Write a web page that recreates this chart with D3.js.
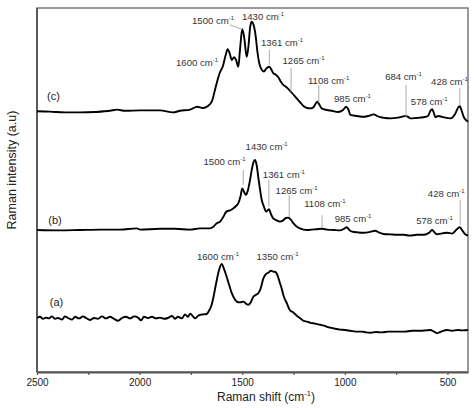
<!DOCTYPE html>
<html><head><meta charset="utf-8">
<script src="https://cdn.jsdelivr.net/npm/d3@7"></script>
<style>body{margin:0;background:#fff} svg{display:block}</style>
</head><body><svg id="chart" width="474" height="408"></svg>
<script>
// Raman spectra: [wavenumber (cm-1), intensity (a.u.)]
const spectrumA = [[2500,13.5],[2485,13.8],[2471,13.3],[2456,13.6],[2442,13.4],[2427,13.9],[2412,13.3],[2398,13.5],[2378,13.1],[2364,13.9],[2349,13.5],[2329,13.1],[2315,13.8],[2295,13.4],[2276,13.9],[2261,13.5],[2242,13.0],[2222,13.5],[2203,13.3],[2183,13.9],[2164,13.4],[2144,13.8],[2125,13.3],[2105,12.8],[2086,13.5],[2066,13.8],[2047,13.4],[2027,13.9],[2008,13.6],[1993,12.9],[1979,13.8],[1959,13.5],[1940,13.8],[1920,13.4],[1901,13.6],[1881,13.3],[1862,13.5],[1842,14.0],[1828,13.3],[1813,13.8],[1794,13.4],[1779,14.4],[1764,13.8],[1754,14.6],[1740,13.9],[1730,13.4],[1716,14.0],[1706,14.3],[1691,14.4],[1673,14.5],[1662,15.3],[1649,16.8],[1638,19.3],[1624,23.0],[1613,25.5],[1600,27.0],[1589,25.8],[1576,23.8],[1564,21.8],[1551,19.7],[1540,18.5],[1527,17.6],[1511,17.4],[1495,17.6],[1482,17.1],[1470,16.8],[1460,17.3],[1446,18.8],[1433,19.3],[1422,19.7],[1411,20.8],[1397,23.4],[1384,24.5],[1373,24.8],[1360,25.3],[1349,25.1],[1338,25.0],[1329,24.3],[1318,22.5],[1308,20.9],[1297,18.8],[1283,17.2],[1267,15.4],[1251,14.9],[1233,14.0],[1219,13.5],[1201,12.8],[1184,12.6],[1168,12.3],[1145,12.1],[1120,11.8],[1102,11.6],[1087,11.3],[1072,11.1],[1054,10.9],[1024,10.6],[999,10.5],[973,10.3],[946,10.1],[916,10.1],[897,9.9],[876,9.8],[848,10.0],[819,9.9],[790,10.1],[746,10.1],[707,10.1],[673,10.3],[634,10.3],[605,10.4],[584,10.5],[566,10.1],[551,9.7],[536,10.0],[522,10.3],[502,10.5],[478,10.3],[449,10.5],[424,10.4],[400,10.5]];

const spectrumB = [[2500,35.5],[2388,35.4],[2290,35.5],[2193,35.6],[2096,35.6],[2013,35.9],[1998,35.6],[1901,35.8],[1828,35.8],[1754,35.6],[1706,35.9],[1657,35.9],[1641,36.3],[1624,37.2],[1608,37.6],[1592,38.8],[1579,40.0],[1568,40.3],[1555,40.5],[1544,40.9],[1530,41.5],[1519,42.2],[1508,44.0],[1500,45.9],[1491,45.0],[1482,44.3],[1472,45.5],[1462,48.0],[1452,51.0],[1445,52.5],[1438,53.0],[1430,51.8],[1422,48.8],[1413,45.5],[1405,43.0],[1394,41.3],[1384,40.1],[1370,40.7],[1360,39.5],[1349,38.4],[1336,38.0],[1316,37.6],[1301,37.9],[1287,38.5],[1276,38.6],[1262,38.0],[1251,37.2],[1238,36.5],[1219,35.9],[1186,35.5],[1160,35.6],[1137,35.7],[1111,35.8],[1087,35.6],[1054,35.5],[1024,35.4],[1004,35.8],[990,36.2],[980,35.6],[965,35.1],[936,34.9],[908,34.8],[878,35.0],[852,35.3],[834,34.9],[811,34.5],[780,34.4],[746,34.3],[713,34.3],[683,34.1],[649,34.3],[614,34.3],[590,34.8],[575,35.5],[563,34.9],[551,34.4],[532,34.6],[502,34.8],[478,34.6],[458,35.5],[440,36.2],[429,35.5],[415,34.5],[400,34.1]];

const spectrumC = [[2500,65.2],[2437,65.1],[2364,64.9],[2290,64.9],[2217,65.0],[2144,65.3],[2110,65.6],[2071,65.3],[1998,65.4],[1901,65.4],[1837,64.9],[1803,65.3],[1754,65.6],[1720,66.3],[1691,66.0],[1667,66.5],[1647,67.8],[1633,70.5],[1623,72.5],[1608,75.0],[1594,76.5],[1582,79.0],[1571,80.7],[1562,79.8],[1551,78.0],[1540,78.7],[1530,78.0],[1519,76.3],[1511,80.5],[1500,85.7],[1491,83.8],[1478,78.8],[1469,81.8],[1462,86.0],[1454,87.6],[1445,86.8],[1434,83.8],[1426,80.0],[1417,77.2],[1404,75.5],[1394,75.1],[1384,75.8],[1368,76.3],[1357,75.5],[1349,74.7],[1336,74.3],[1324,73.7],[1311,72.5],[1300,71.8],[1287,71.3],[1267,70.3],[1253,69.5],[1235,68.4],[1219,67.5],[1202,66.5],[1184,66.0],[1170,65.9],[1155,66.1],[1143,67.0],[1134,67.6],[1124,66.8],[1113,65.9],[1088,65.5],[1063,65.3],[1033,65.0],[1009,65.5],[993,66.3],[982,65.5],[973,64.3],[941,64.0],[908,63.8],[887,64.0],[859,64.4],[843,64.0],[827,63.7],[804,63.5],[779,63.4],[741,63.6],[722,63.8],[705,64.0],[692,63.8],[681,63.4],[653,63.5],[616,63.7],[595,64.0],[583,65.3],[575,65.7],[568,65.0],[559,63.7],[546,64.0],[527,63.8],[512,63.6],[486,63.4],[463,64.5],[449,66.0],[440,66.5],[432,65.5],[421,63.8],[410,63.0],[400,62.6]];

const xTickValues = [2500, 2000, 1500, 1000, 500];
const xMinorTicks = [2250, 1750, 1250, 750];

// sample labels: [text, wavenumber, intensity]
const sampleLabels = [["(a)", 2405, 16.4], ["(b)", 2412, 37.0], ["(c)", 2420, 67.9]];

// peak labels: [band, label wavenumber, label intensity, leader: [w1, i1, w2, i2] or null]
const peakLabels = [
  ["1600", 1720, 76.4, null],
  ["1500", 1642, 87.1, [1560, 86.8, 1503, 85.7]],
  ["1430", 1399, 88.0, null],
  ["1361", 1306, 81.4, [1368, 80.5, 1368, 76.8]],
  ["1265", 1201, 77.1, [1262, 76.0, 1262, 70.1]],
  ["1108", 1079, 72.1, [1127, 71.7, 1127, 67.3]],
  ["985", 963, 67.6, null],
  ["684", 714, 72.9, [702, 71.7, 702, 63.8]],
  ["578", 589, 66.7, null],
  ["428", 490, 71.7, [440, 71.0, 440, 66.5]],
  ["1500", 1586, 51.7, [1495, 50.5, 1495, 46.8]],
  ["1430", 1381, 55.6, null],
  ["1361", 1297, 48.4, [1370, 48.0, 1370, 41.3]],
  ["1265", 1235, 44.6, [1271, 44.2, 1271, 38.8]],
  ["1108", 1097, 41.3, [1111, 39.2, 1111, 36.0]],
  ["985", 960, 37.6, null],
  ["578", 563, 37.1, null],
  ["428", 506, 43.8, [438, 43.0, 438, 36.8]],
  ["1600", 1618, 28.1, null],
  ["1350", 1328, 28.0, null]
];

const svg = d3.select("#chart");
const font = "'Liberation Sans', Arial, sans-serif";
const x = d3.scaleLinear().domain([2500, 400]).range([37, 468]);
const y = d3.scaleLinear().domain([0, 91]).range([372, 8]);

// frame
svg.append("rect").attr("x", 37).attr("y", 8).attr("width", 431).attr("height", 364)
  .attr("fill", "none").attr("stroke", "#7a7a7a").attr("stroke-width", 1.5);

// bottom axis
const gx = svg.append("g").attr("transform", "translate(0,372)")
  .call(d3.axisBottom(x).tickValues(xTickValues).tickSize(3).tickSizeOuter(0).tickPadding(4).tickFormat(d3.format("d")));
gx.select(".domain").attr("stroke", "#555").attr("stroke-width", 1.8);
gx.selectAll(".tick line").attr("stroke", "#555").attr("stroke-width", 1.2);
gx.selectAll(".tick text").attr("font-family", font).attr("font-size", 10).attr("fill", "#222");
const gm = svg.append("g").attr("transform", "translate(0,372)")
  .call(d3.axisBottom(x).tickValues(xMinorTicks).tickSize(3).tickSizeOuter(0).tickFormat(""));
gm.select(".domain").remove();
gm.selectAll(".tick line").attr("stroke", "#555").attr("stroke-width", 1.2);

// left axis line
svg.append("line").attr("x1", 37).attr("x2", 37).attr("y1", y(91)).attr("y2", y(0))
  .attr("stroke", "#555").attr("stroke-width", 1.8);

// spectra
const line = d3.line().x(d => x(d[0])).y(d => y(d[1])).curve(d3.curveMonotoneX);
[spectrumA, spectrumB, spectrumC].forEach(s => {
  svg.append("path").attr("d", line(s)).attr("fill", "none")
    .attr("stroke", "#000").attr("stroke-width", 1.9).attr("stroke-linejoin", "round");
});

// leader lines
peakLabels.filter(p => p[3]).forEach(p => {
  const l = p[3];
  svg.append("line").attr("x1", x(l[0])).attr("y1", y(l[1])).attr("x2", x(l[2])).attr("y2", y(l[3]))
    .attr("stroke", "#aaa").attr("stroke-width", 1);
});

// peak labels
peakLabels.forEach(p => {
  const t = svg.append("text").attr("x", x(p[1])).attr("y", y(p[2]))
    .attr("text-anchor", "middle").attr("font-family", font).attr("font-size", 9.6).attr("fill", "#333");
  t.append("tspan").text(p[0] + " cm");
  t.append("tspan").attr("dy", -4).attr("font-size", 6).text("-1");
});

// sample labels
sampleLabels.forEach(s => {
  svg.append("text").attr("x", x(s[1])).attr("y", y(s[2])).attr("text-anchor", "middle")
    .attr("font-family", font).attr("font-size", 11).attr("fill", "#222").text(s[0]);
});

// axis titles
const xt = svg.append("text").attr("x", 266).attr("y", 401).attr("text-anchor", "middle")
  .attr("font-family", font).attr("font-size", 12).attr("fill", "#222");
xt.append("tspan").text("Raman shift (cm");
xt.append("tspan").attr("dy", -5).attr("font-size", 7.5).text("-1");
xt.append("tspan").attr("dy", 5).text(")");

svg.append("text").attr("transform", "translate(16,170) rotate(-90)").attr("text-anchor", "middle")
  .attr("font-family", font).attr("font-size", 12.5).attr("fill", "#222").text("Raman intensity (a.u)");
</script></body></html>
